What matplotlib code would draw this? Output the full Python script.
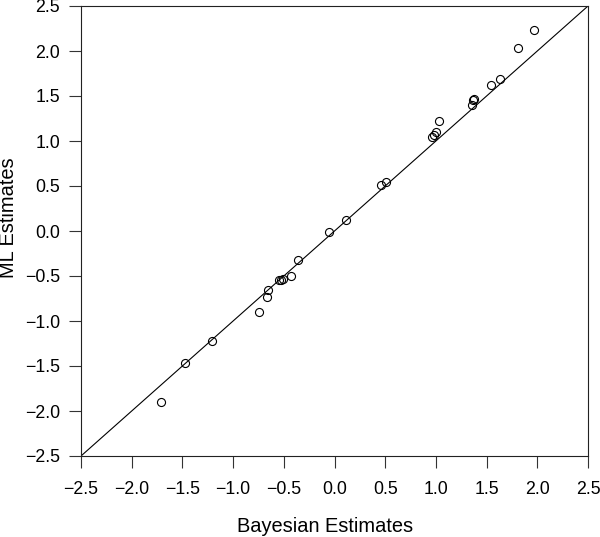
import matplotlib
matplotlib.use("Agg")
import matplotlib.pyplot as plt
import numpy as np

# Bayesian vs ML estimates
bayes = [-1.71, -1.47, -1.21, -0.74, -0.67, -0.66, -0.55, -0.53, -0.51, -0.43,
         -0.36, -0.05, 0.11, 0.46, 0.51, 0.96, 0.98, 1.00, 1.03, 1.36,
         1.37, 1.38, 1.54, 1.63, 1.81, 1.97]
ml = [-1.90, -1.47, -1.22, -0.90, -0.73, -0.66, -0.54, -0.54, -0.53, -0.50,
      -0.32, -0.01, 0.12, 0.51, 0.54, 1.04, 1.07, 1.10, 1.22, 1.40,
      1.46, 1.47, 1.62, 1.69, 2.03, 2.23]
ticks = [-2.5, -2.0, -1.5, -1.0, -0.5, 0.0, 0.5, 1.0, 1.5, 2.0, 2.5]
lims = (-2.5, 2.5)

plt.rcParams["font.family"] = ["Liberation Sans", "DejaVu Sans"]

W, H = 600, 537
fig = plt.figure(figsize=(W / 100, H / 100), dpi=100)
ax = fig.add_axes([81 / W, 81 / H, 507 / W, 450 / H])

ax.plot(lims, lims, color="black", lw=0.8)
ax.plot(bayes, ml, linestyle="none", marker="o", ms=5.8,
        mfc="none", mec="black", mew=0.8)

ax.set_xlim(lims)
ax.set_ylim(lims)
ax.set_xticks(ticks)
ax.set_yticks(ticks)
labels = [f"{t:.1f}".replace("-", "\u2212") for t in ticks]
ax.set_xticklabels(labels)
ax.set_yticklabels(labels)
ax.tick_params(axis="x", length=8.3, width=0.8, labelsize=12.8, pad=9.4,
               color="#333333")
ax.tick_params(axis="y", length=8.3, width=0.8, labelsize=12.8, pad=6.8,
               color="#333333")
for sp in ax.spines.values():
    sp.set_linewidth(0.8)
    sp.set_color("#222222")

fig.text(325 / W, 5 / H, "Bayesian Estimates", ha="center", va="baseline",
         fontsize=14.4)
fig.text(9 / W, (H - 218) / H, "ML Estimates", ha="center", va="center",
         rotation=90, fontsize=14.4)

fig.savefig("out.png", dpi=100)
